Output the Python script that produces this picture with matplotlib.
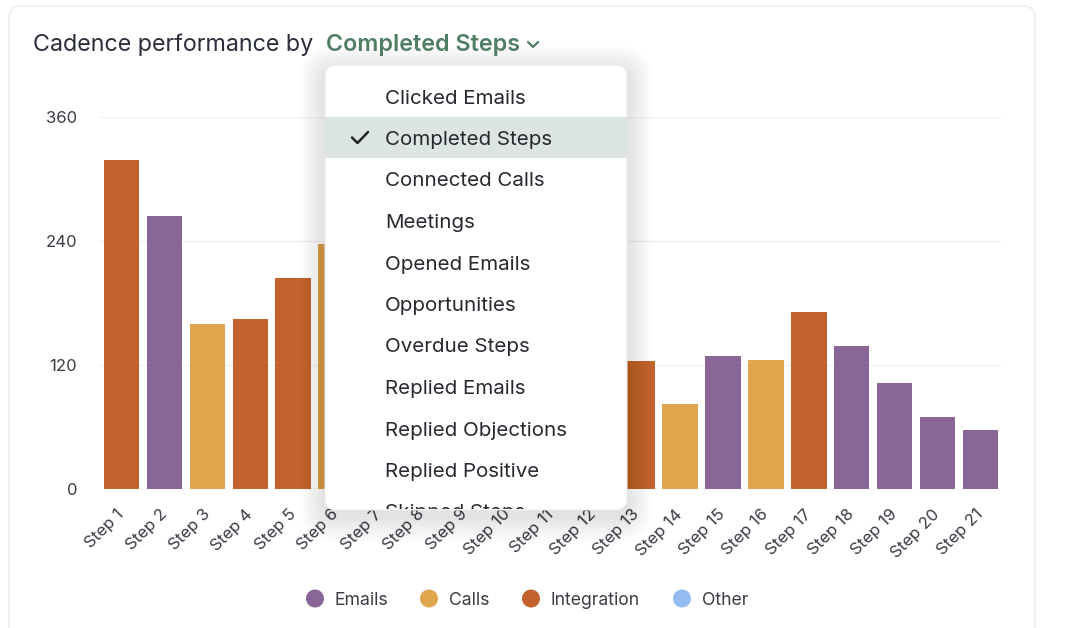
import matplotlib
matplotlib.use("Agg")
import matplotlib.pyplot as plt
from matplotlib.patches import FancyBboxPatch, Rectangle, Circle
from matplotlib.transforms import Bbox, TransformedBbox

plt.rcParams['font.family'] = ['Inter', 'DejaVu Sans']

# ---- data ----
steps = [f"Step {i}" for i in range(1, 22)]
values = [318, 264, 160, 165, 204, 237, 180, 150, 140, 130, 110, 120,
          124, 82, 129, 125, 171, 138, 103, 70, 57]
types = ["Integration", "Emails", "Calls", "Integration", "Integration", "Calls",
         "Emails", "Calls", "Emails", "Integration", "Calls", "Emails",
         "Integration", "Calls", "Emails", "Calls", "Integration", "Emails",
         "Emails", "Emails", "Emails"]
legend_labels = ["Emails", "Calls", "Integration", "Other"]
type_colors = {"Emails": "#8A6597", "Calls": "#DFA64E",
               "Integration": "#C4622D", "Other": "#94BBF2"}
yticks = [0, 120, 240, 360]
menu_items = ["Clicked Emails", "Completed Steps", "Connected Calls", "Meetings",
              "Opened Emails", "Opportunities", "Overdue Steps", "Replied Emails",
              "Replied Objections", "Replied Positive", "Skipped Steps"]
selected_item = "Completed Steps"

W, H = 1066, 628
fig = plt.figure(figsize=(W / 100, H / 100), dpi=100)
fig.patch.set_facecolor("white")

# ---- chart axes ----
ax = fig.add_axes([100 / W, 1 - 489 / H, 902 / W, 372 / H])
ax.patch.set_alpha(0)
x = list(range(len(steps)))
ax.bar(x, values, width=0.83, color=[type_colors[t] for t in types], zorder=2)
ax.set_xlim(-0.5, len(steps) - 0.5)
ax.set_ylim(0, 360)
ax.set_yticks(yticks)
ax.set_yticklabels([str(v) for v in yticks])
for v in yticks:
    ax.axhline(v, color="#F1F1F1", lw=1, zorder=1)
for s in ax.spines.values():
    s.set_visible(False)
ax.tick_params(axis="y", length=0, pad=16.5, labelsize=12, labelcolor="#3A3D45")
ax.tick_params(axis="x", length=0, pad=16.5, labelsize=12, labelcolor="#3A3D45")
ax.set_xticks(x)
ax.set_xticklabels(steps, rotation=45, ha="right", va="center", rotation_mode="anchor")

# ---- overlay ----
ov = fig.add_axes([0, 0, 1, 1], zorder=10)
ov.set_xlim(0, W)
ov.set_ylim(H, 0)
ov.axis("off")
ov.patch.set_alpha(0)

# card border
card = FancyBboxPatch((9, 6), 1026, 700, boxstyle="round,pad=0,rounding_size=12",
                      facecolor="none", edgecolor="#EFEFEF", lw=1.2)
ov.add_patch(card)

# title
ov.text(33, 50.5, "Cadence performance by", fontsize=16.8, color="#2B2F3B",
        va="baseline", ha="left")
ov.text(326, 50.5, "Completed Steps", fontsize=16.8, color="#4F7E64",
        va="baseline", ha="left", fontweight="semibold")
ov.plot([528, 533, 538], [42, 47, 42], color="#4F7E64", lw=1.6,
        solid_capstyle="round", solid_joinstyle="round")

# legend
leg_circle_x = [315, 429, 531, 682]
leg_text_x = [334, 449, 551, 702]
for lab, cx, tx in zip(legend_labels, leg_circle_x, leg_text_x):
    ov.add_patch(Circle((cx, 598.5), 9, facecolor=type_colors[lab], edgecolor="none"))
    ov.text(tx, 605, lab, fontsize=12.7, color="#3A3D45", va="baseline", ha="left")

# dropdown
dx0, dy0, dw, dh = 325, 65, 302, 445
for i in range(14):
    pad = 2 + i * 1.8
    ov.add_patch(FancyBboxPatch((dx0 - pad, dy0 - pad + 6), dw + 2 * pad, dh + 2 * pad,
                                boxstyle=f"round,pad=0,rounding_size={10 + pad}",
                                facecolor="black", edgecolor="none", alpha=0.008))
menu = FancyBboxPatch((dx0, dy0), dw, dh, boxstyle="round,pad=0,rounding_size=11",
                      facecolor="white", edgecolor="#ECECEC", lw=0.8)
ov.add_patch(menu)
menu_clip = TransformedBbox(Bbox([[dx0, dy0], [dx0 + dw, dy0 + dh - 1]]), ov.transData)
row_h = 41.5
for i, item in enumerate(menu_items):
    cy = 96 + i * row_h
    if item == selected_item:
        hl = Rectangle((dx0, cy - 20.5), dw, 41, facecolor="#DCE5E1", edgecolor="none")
        ov.add_patch(hl)
        hl.set_clip_path(menu)
        ov.plot([352, 357.5, 368], [137.5, 143, 132], color="#1F2328", lw=1.8,
                solid_capstyle="round", solid_joinstyle="round")
    t = ov.text(385, cy + 7.5, item, fontsize=14.8, color="#26292F", va="baseline",
                ha="left", clip_on=True)
    t.set_clip_path(None)
    t.set_clip_box(menu_clip)

fig.savefig("out.png", dpi=100, facecolor="white")
